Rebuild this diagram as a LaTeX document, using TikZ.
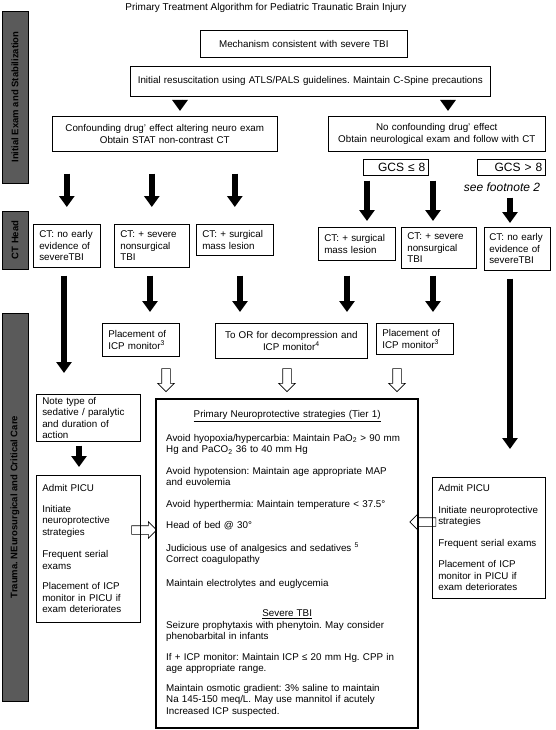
\documentclass[tikz,border=0pt]{standalone}
\usepackage{fontspec}
\setmainfont{Liberation Sans}
\usetikzlibrary{arrows.meta,calc,shapes.arrows}
\definecolor{barfill}{RGB}{90,90,90}
\frenchspacing
\tikzset{
  box/.style={draw,line width=0.6pt,anchor=north west,inner xsep=6pt,inner ysep=0pt,
    align=left,font=\fontsize{9.8}{11.5}\selectfont},
  cbox/.style={box,align=center},
  gcs/.style={box,align=right,inner xsep=3pt,font=\fontsize{12}{12}\selectfont},
  bar/.style={draw,fill=barfill,rotate=90,minimum height=26pt,inner sep=0pt,
    font=\fontsize{9.5}{11}\selectfont\bfseries},
  fat/.style={line width=6.5pt,-{Triangle[length=11pt,width=15pt]}},
  hollow/.style={single arrow,draw,fill=white,line width=0.6pt,inner sep=4pt,
    single arrow head extend=4pt}
}
\begin{document}
\begin{tikzpicture}[x=1pt,y=-1pt]
\useasboundingbox (0,0) rectangle (555,730);
% phases
\node[bar,minimum width=172pt] (phase1) at (15,97) {Initial Exam and Stabilization};
\node[bar,minimum width=58pt] (phase2) at (15,240) {CT Head};
\node[bar,minimum width=388pt] (phase3) at (15,507) {Trauma. NEurosurgical and Critical Care};
\node[font=\fontsize{10}{11}\selectfont] (title) at (266,8) {Primary Treatment Algorithm for Pediatric Traunatic Brain Injury};
% initial exam
\node[cbox,text width=195pt,minimum height=27pt] (mech) at (200,30) {Mechanism consistent with severe TBI};
\node[cbox,text width=348pt,minimum height=30pt] (resus) at (130,66) {Initial resuscitation using ATLS/PALS guidelines. Maintain C-Spine precautions};
\node[cbox,text width=213pt,minimum height=35pt] (conf) at (52,116) {Confounding drug' effect altering neuro exam\\Obtain STAT non-contrast CT};
\node[cbox,text width=205pt,minimum height=35pt] (noconf) at (328,116) {No confounding drug' effect\\Obtain neurological exam and follow with CT};
\node[gcs,text width=59pt,minimum height=16pt] (gcsa) at (363,159) {GCS ≤ 8};
\node[gcs,text width=62pt,minimum height=16pt] (gcsb) at (477,159) {GCS > 8};
\node[font=\fontsize{12}{12}\selectfont\itshape,inner sep=1pt] (foot) at (502,187) {see footnote 2};
% CT head
\node[box,text width=55pt,minimum height=43pt] (ct1) at (33,224) {CT: no early\\evidence of\\severeTBI};
\node[box,text width=63pt,minimum height=43pt] (ct2) at (114,224) {CT: + severe\\nonsurgical\\TBI};
\node[box,text width=65pt,minimum height=31pt] (ct3) at (196,224) {CT: + surgical\\mass lesion};
\node[box,text width=65pt,minimum height=33pt] (ct4) at (318,227) {CT: + surgical\\mass lesion};
\node[box,text width=63pt,minimum height=41pt] (ct5) at (401,227) {CT: + severe\\nonsurgical\\TBI};
\node[box,inner xsep=5pt,text width=56pt,minimum height=43pt] (ct6) at (484,227) {CT: no early\\evidence of\\severeTBI};
% neurosurgical and critical care
\node[box,text width=65pt,minimum height=33pt] (place1) at (102,323) {Placement of\\ICP monitor\textsuperscript{3}};
\node[cbox,text width=140pt,minimum height=35pt] (orbox) at (215,323) {To OR for decompression and\\ICP monitor\textsuperscript{4}};
\node[box,text width=65pt,minimum height=31pt] (place2) at (376,323) {Placement of\\ICP monitor\textsuperscript{3}};
\node[hollow,shape border rotate=270,minimum height=23pt] (h1) at (166,378) {};
\node[hollow,shape border rotate=270,minimum height=23pt] (h2) at (287,378) {};
\node[hollow,shape border rotate=270,minimum height=23pt] (h3) at (397,378) {};
\node[hollow,minimum height=25pt] (h4) at (142,530) {};
\node[hollow,shape border rotate=180,minimum height=26pt] (h5) at (425,522) {};
\node[box,text width=92pt,minimum height=47pt] (note) at (36,394) {Note type of\\sedative / paralytic\\and duration of\\action};
\node[box,text width=92pt,minimum height=147pt] (admitl) at (36,475) {Admit PICU\\[9pt]
Initiate\\neuroprotective\\strategies\\[11pt]
Frequent serial\\exams\\[9pt]
Placement of ICP\\monitor in PICU if\\exam deteriorates};
\node[box,text width=101pt,minimum height=121pt] (admitr) at (432,477) {Admit PICU\\[10pt]
Initiate neuroprotective\\strategies\\[10pt]
Frequent serial exams\\[10pt]
Placement of ICP\\monitor in PICU if\\exam deteriorates};
\node[box,line width=2.4pt,inner xsep=10pt,text width=242pt,minimum height=329pt] (tier) at (155,398) {%
\makebox[\linewidth]{\underline{Primary Neuroprotective strategies (Tier 1)}}\\[12pt]
Avoid hyopoxia/hypercarbia: Maintain PaO\textsubscript{2} > 90 mm\\
Hg and PaCO\textsubscript{2} 36 to 40 mm Hg\\[10pt]
Avoid hypotension: Maintain age appropriate MAP\\
and euvolemia\\[10pt]
Avoid hyperthermia: Maintain temperature < 37.5°\\[10pt]
Head of bed @ 30°\\[11pt]
Judicious use of analgesics and sedatives \textsuperscript{5}\\
Correct coagulopathy\\[12pt]
Maintain electrolytes and euglycemia\\[19pt]
\makebox[\linewidth]{\underline{Severe TBI}}\\
Seizure prophytaxis with phenytoin. May consider\\
phenobarbital in infants\\[9pt]
If + ICP monitor: Maintain ICP ≤ 20 mm Hg. CPP in\\
age appropriate range.\\[8pt]
Maintain osmotic gradient: 3\% saline to maintain\\
Na 145-150 meq/L. May use mannitol if acutely\\
Increased ICP suspected.};
% arrows
\draw[fat] ($(resus.south -| 180,0)+(0,3)$) -- ($(conf.north -| 180,0)+(0,-5)$);
\draw[fat] ($(resus.south -| 448,0)+(0,3)$) -- ($(noconf.north -| 448,0)+(0,-5)$);
\foreach \ct in {ct1,ct2,ct3}
  \draw[fat] ($(conf.south -| \ct)+(0,22)$) -- ($(\ct.north)+(0,-17)$);
\draw[fat] ($(gcsa.south -| 367,0)+(0,5)$) -- ($(ct4.north -| 367,0)+(0,-6)$);
\draw[fat] ($(gcsa.south -| 433,0)+(0,5)$) -- ($(ct5.north -| 433,0)+(0,-6)$);
\draw[fat] ($(foot.south -| 510,0)+(0,5)$) -- ($(ct6.north -| 510,0)+(0,-4)$);
\draw[fat] ($(ct1.south -| 64,0)+(0,8)$) -- ($(note.north -| 64,0)+(0,-21)$);
\draw[fat] ($(ct2.south -| 150,0)+(0,8)$) -- ($(place1.north -| 150,0)+(0,-11)$);
\draw[fat] ($(ct3.south -| 240,0)+(0,20)$) -- ($(orbox.north -| 240,0)+(0,-11)$);
\draw[fat] ($(ct4.south -| 347,0)+(0,15)$) -- ($(orbox.north -| 347,0)+(0,-11)$);
\draw[fat] ($(ct5.south -| 433,0)+(0,7)$) -- ($(place2.north -| 433,0)+(0,-11)$);
\draw[fat] ($(ct6.south -| 510,0)+(0,8)$) -- ($(admitr.north -| 510,0)+(0,-28)$);
\draw[fat] ($(note.south -| 79,0)+(0,4)$) -- ($(admitl.north -| 79,0)+(0,-8)$);
\end{tikzpicture}
\end{document}
